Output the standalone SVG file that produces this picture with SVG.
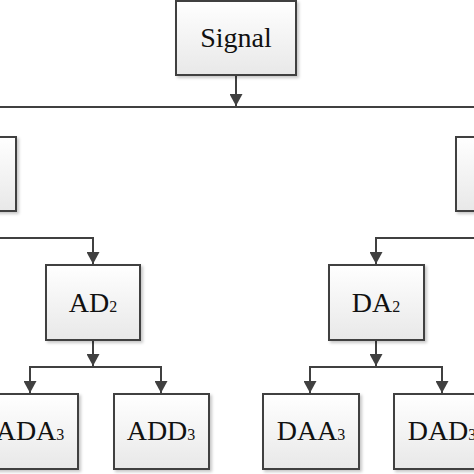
<svg xmlns="http://www.w3.org/2000/svg" width="474" height="474" viewBox="0 0 474 474">
<defs>
<linearGradient id="g" x1="0" y1="0" x2="0" y2="1">
<stop offset="0" stop-color="#ffffff"/>
<stop offset="1" stop-color="#e8e8e8"/>
</linearGradient>
<filter id="sh" x="-10%" y="-10%" width="130%" height="130%">
<feDropShadow dx="2" dy="2" stdDeviation="1.5" flood-color="#000" flood-opacity="0.22"/>
</filter>
<marker id="ah" markerUnits="userSpaceOnUse" markerWidth="13" markerHeight="13" refX="12" refY="6.5" orient="auto">
<path d="M0,0 L12,6.5 L0,13 z" fill="#404040"/>
</marker>
</defs>
<style>
.box{fill:url(#g);stroke:#404040;stroke-width:2;filter:url(#sh)}
.lbl{font-family:"Liberation Serif","Times New Roman",serif;font-size:28px;fill:#111;text-anchor:middle}
.sub{font-size:16px}
.c{fill:none;stroke:#404040;stroke-width:2}
</style>
<g id="connectors">
<path class="c" d="M236,75 V106" marker-end="url(#ah)"/>
<path class="c" d="M0,107 H474"/>
<path class="c" d="M0,238 H93 V264" marker-end="url(#ah)"/>
<path class="c" d="M474,238 H376 V264" marker-end="url(#ah)"/>
<path class="c" d="M93,340 V366" marker-end="url(#ah)"/>
<path class="c" d="M93,367 H30 V393" marker-end="url(#ah)"/>
<path class="c" d="M93,367 H161 V393" marker-end="url(#ah)"/>
<path class="c" d="M376,340 V366" marker-end="url(#ah)"/>
<path class="c" d="M376,367 H310 V393" marker-end="url(#ah)"/>
<path class="c" d="M376,367 H442 V393" marker-end="url(#ah)"/>
</g>
<g id="signal">
<rect class="box" x="176" y="1" width="120" height="74"/>
<text class="lbl" x="236" y="47">Signal</text>
</g>
<g id="left1">
<rect class="box" x="-104" y="137" width="120" height="74"/>
</g>
<g id="right1">
<rect class="box" x="456" y="137" width="120" height="74"/>
</g>
<g id="AD2">
<rect class="box" x="46" y="265" width="94" height="75"/>
<text class="lbl" x="93" y="312">AD<tspan class="sub">2</tspan></text>
</g>
<g id="DA2">
<rect class="box" x="329" y="265" width="95" height="75"/>
<text class="lbl" x="376" y="312">DA<tspan class="sub">2</tspan></text>
</g>
<g id="ADA3">
<rect class="box" x="-17" y="394" width="95" height="75"/>
<text class="lbl" x="30" y="440">ADA<tspan class="sub">3</tspan></text>
</g>
<g id="ADD3">
<rect class="box" x="114" y="394" width="95" height="75"/>
<text class="lbl" x="161" y="440">ADD<tspan class="sub">3</tspan></text>
</g>
<g id="DAA3">
<rect class="box" x="263" y="394" width="96" height="75"/>
<text class="lbl" x="311" y="440">DAA<tspan class="sub">3</tspan></text>
</g>
<g id="DAD3">
<rect class="box" x="394" y="394" width="95" height="75"/>
<text class="lbl" x="442" y="440">DAD<tspan class="sub">3</tspan></text>
</g>
</svg>
